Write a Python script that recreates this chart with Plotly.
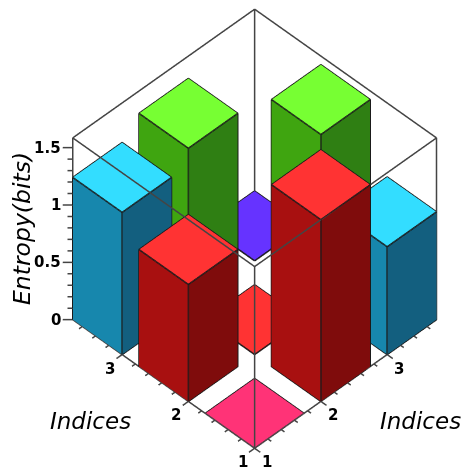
import numpy as np
import plotly.graph_objects as go

# x is the axis running up to the right, y the one running up to the left
indices = [1, 2, 3]
bar_width = 0.745
# entropy[iy][ix]
entropy = [
    [0.0, 1.585, 0.94],
    [1.02, 0.0, 1.51],
    [1.24, 1.39, 0.0],
]
bar_names = [
    ["pink", "red", "blue"],
    ["red", "red", "green"],
    ["blue", "green", "purple"],
]
top_colors = {"pink": "#ff3377", "red": "#ff3333", "blue": "#33ddff", "green": "#77ff33", "purple": "#6633ff"}
left_colors = {"red": "#a81010", "blue": "#1787ad", "green": "#3fa510"}
right_colors = {"red": "#7f0c0c", "blue": "#135f7f", "green": "#2f7f13"}

z_major = [0, 0.5, 1, 1.5]
z_labels = ["0", "0.5", "1", "1.5"]
z_minor = [0.1, 0.2, 0.3, 0.4, 0.6, 0.7, 0.8, 0.9, 1.1, 1.2, 1.3, 1.4]
xy_minor = [1.2, 1.4, 1.6, 1.8, 2.2, 2.4, 2.6, 2.8, 3.2, 3.4, 3.6]

lo = 1
hi = 3 + bar_width
z_top = max(max(row) for row in entropy)

verts = []
faces = []
face_colors = []
edge_x, edge_y, edge_z = [], [], []


def add_quad(corners, color):
    n = len(verts)
    verts.extend(corners)
    faces.append((n + 1, n + 2, n + 3))
    faces.append((n + 1, n + 3, n))
    face_colors.extend([color, color])
    for c in corners + [corners[0]]:
        edge_x.append(c[0])
        edge_y.append(c[1])
        edge_z.append(c[2])
    edge_x.append(None)
    edge_y.append(None)
    edge_z.append(None)


for iy, row in enumerate(entropy):
    for ix, h in enumerate(row):
        x0 = indices[ix]
        y0 = indices[iy]
        x1 = x0 + bar_width
        y1 = y0 + bar_width
        name = bar_names[iy][ix]
        add_quad([(x0, y0, h), (x1, y0, h), (x1, y1, h), (x0, y1, h)], top_colors[name])
        if h > 0:
            # the two faces turned to the viewer
            add_quad([(x0, y0, 0), (x0, y1, 0), (x0, y1, h), (x0, y0, h)], left_colors[name])
            add_quad([(x0, y0, 0), (x1, y0, 0), (x1, y0, h), (x0, y0, h)], right_colors[name])

verts = np.array(verts)
faces = np.array(faces)

fig = go.Figure()
fig.add_trace(go.Mesh3d(
    x=verts[:, 0], y=verts[:, 1], z=verts[:, 2],
    i=faces[:, 0], j=faces[:, 1], k=faces[:, 2],
    facecolor=face_colors, flatshading=True, hoverinfo="skip", showscale=False,
    lighting=dict(ambient=1, diffuse=0, specular=0, roughness=1, fresnel=0),
))
fig.add_trace(go.Scatter3d(x=edge_x, y=edge_y, z=edge_z, mode="lines",
                           line=dict(color="#1a1a1a", width=3), hoverinfo="skip"))

# box frame
fx, fy, fz = [], [], []


def seg(a, b):
    fx.extend([a[0], b[0], None])
    fy.extend([a[1], b[1], None])
    fz.extend([a[2], b[2], None])


seg((lo, lo, z_top), (hi, lo, z_top))
seg((hi, lo, z_top), (hi, hi, z_top))
seg((hi, hi, z_top), (lo, hi, z_top))
seg((lo, hi, z_top), (lo, lo, z_top))
seg((hi, lo, 0), (hi, lo, z_top))
seg((lo, hi, 0), (lo, hi, z_top))
seg((hi, hi, 0), (hi, hi, z_top))
seg((lo, lo, 0), (lo, lo, z_top))
seg((lo, lo, 0), (hi, lo, 0))
seg((lo, lo, 0), (lo, hi, 0))

# tick marks
major = 0.085
minor = 0.05
for t in indices:
    seg((t, lo, 0), (t, lo - major, 0))
    seg((lo, t, 0), (lo - major, t, 0))
for t in xy_minor:
    seg((t, lo, 0), (t, lo - minor, 0))
    seg((lo, t, 0), (lo - minor, t, 0))
for t in z_major:
    seg((lo, hi, t), (lo - 0.075, hi + 0.075, t))
for t in z_minor:
    seg((lo, hi, t), (lo - 0.04, hi + 0.04, t))

fig.add_trace(go.Scatter3d(x=fx, y=fy, z=fz, mode="lines",
                           line=dict(color="#444444", width=3), hoverinfo="skip"))

tick_font = dict(family="DejaVu Sans", size=15, color="black")
labels = []
for t in indices:
    labels.append(dict(x=t, y=lo, z=0, text="<b>%d</b>" % t, xshift=12, yshift=-14,
                       showarrow=False, font=tick_font))
    labels.append(dict(x=lo, y=t, z=0, text="<b>%d</b>" % t, xshift=-12, yshift=-14,
                       showarrow=False, font=tick_font))
for t, s in zip(z_major, z_labels):
    labels.append(dict(x=lo, y=hi, z=t, text="<b>%s</b>" % s, xanchor="right", xshift=-10,
                       showarrow=False, font=tick_font))

pad = 0.3
xy_range = [lo - pad, hi + pad]
z_range = [-0.05, z_top + 0.05]
span = hi - lo
hidden = dict(visible=False, showgrid=False, zeroline=False, showticklabels=False, showspikes=False)
zoom = 1.083

title_font = dict(family="DejaVu Sans", size=23, color="black")
center = dict(x=-0.0525, y=0.0525, z=-0.052)
view = (-1.154, -1.154, 1.634)

fig.update_layout(
    width=474, height=475,
    margin=dict(l=0, r=0, t=0, b=0),
    showlegend=False,
    paper_bgcolor="white",
    scene=dict(
        domain=dict(x=[0, 1], y=[0, 1]),
        xaxis=dict(range=xy_range, **hidden),
        yaxis=dict(range=xy_range, **hidden),
        zaxis=dict(range=z_range, **hidden),
        aspectmode="manual",
        aspectratio=dict(x=zoom * (xy_range[1] - xy_range[0]) / span, y=zoom * (xy_range[1] - xy_range[0]) / span,
                         z=zoom * (z_range[1] - z_range[0]) / z_top),
        camera=dict(projection=dict(type="orthographic"),
                    up=dict(x=0, y=0, z=1),
                    center=center,
                    eye=dict(x=view[0] + center["x"], y=view[1] + center["y"], z=view[2] + center["z"])),
        annotations=labels,
    ),
    annotations=[
        dict(x=90 / 474, y=1 - 421 / 475, xref="paper", yref="paper", xanchor="center", yanchor="middle",
             text="<i>Indices</i>", showarrow=False, font=title_font),
        dict(x=420 / 474, y=1 - 421 / 475, xref="paper", yref="paper", xanchor="center", yanchor="middle",
             text="<i>Indices</i>", showarrow=False, font=title_font),
        dict(x=22 / 474, y=1 - 229 / 475, xref="paper", yref="paper", xanchor="center", yanchor="middle",
             text="<i>Entropy(bits)</i>", showarrow=False, textangle=-90,
             font=dict(family="DejaVu Sans", size=23.5, color="black")),
    ],
)

fig.write_html("out.html", config=dict(displayModeBar=False),
               post_script="document.body.style.margin='0';")
